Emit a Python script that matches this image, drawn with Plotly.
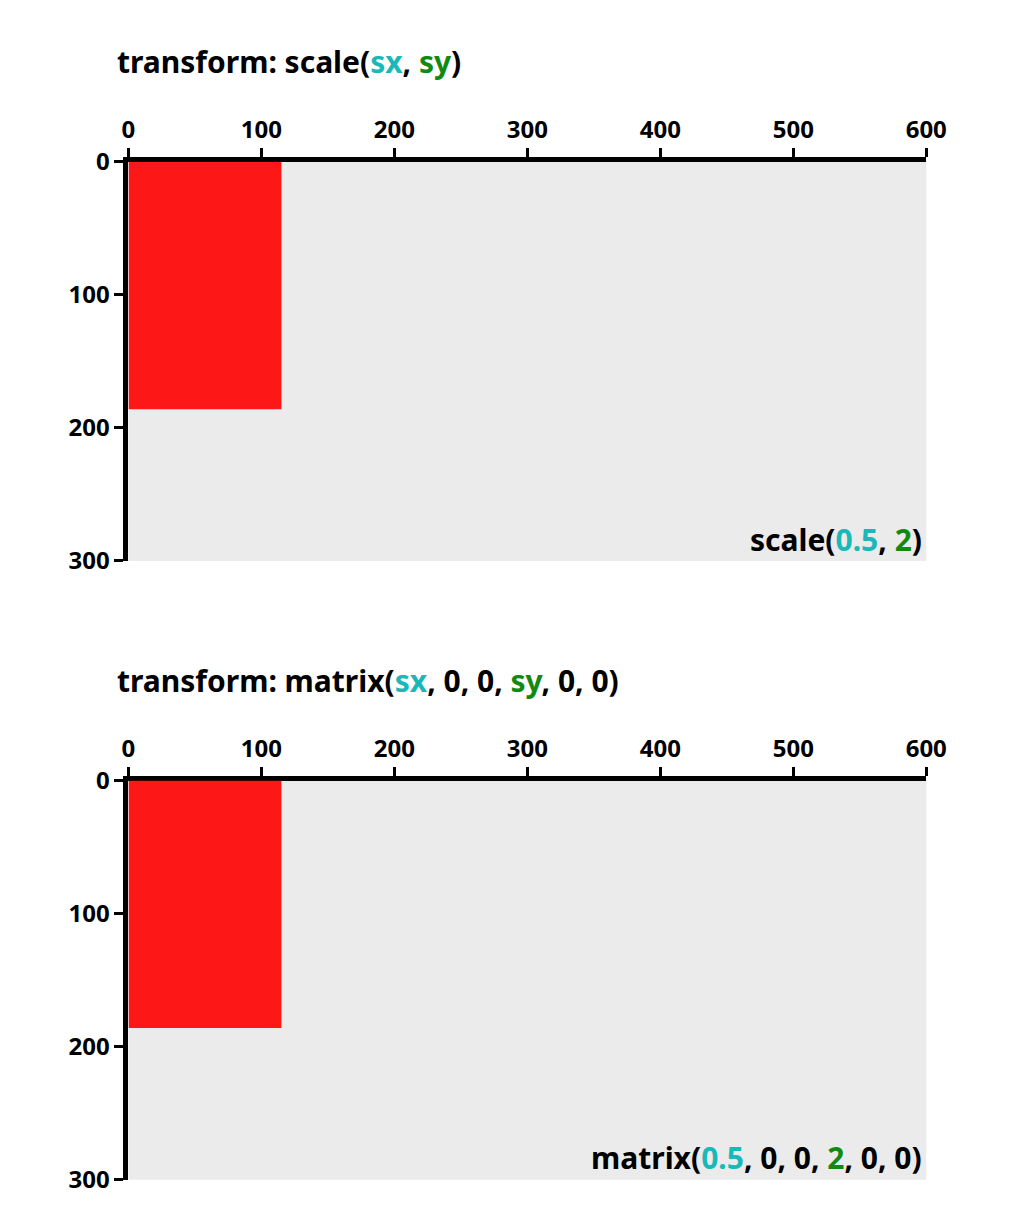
import plotly.graph_objects as go

x_ticks = [0, 100, 200, 300, 400, 500, 600]
y_ticks = [0, 100, 200, 300]
rect_x = [0, 115]
rect_y = [0, 186]
titles = ["transform: scale(<span style='color:#1ab8b8'>sx</span>, <span style='color:#118a11'>sy</span>)",
          "transform: matrix(<span style='color:#1ab8b8'>sx</span>, 0, 0, <span style='color:#118a11'>sy</span>, 0, 0)"]
labels = ["scale(<span style='color:#1ab8b8'>0.5</span>, <span style='color:#118a11'>2</span>)",
          "matrix(<span style='color:#1ab8b8'>0.5</span>, 0, 0, <span style='color:#118a11'>2</span>, 0, 0)"]

W, H = 1010, 1228
S, OX, OY = 0.975, 13.2, 24.0
def px(p): return (p - OX) / S / W
def py(p): return 1 - (p - OY) / S / H

FONT = "Noto Sans"
fig = go.Figure()
panels = [(160, 560), (780, 1180)]
x0p, x1p = 127, 927
for i, (top, bot) in enumerate(panels):
    sfx = "" if i == 0 else "2"
    xa, ya = "x" + sfx, "y" + sfx
    fig.add_trace(go.Scatter(x=[None], y=[None], xaxis=xa, yaxis=ya, showlegend=False))
    common = dict(showgrid=False, zeroline=False, showline=True, linecolor="black", linewidth=5,
                  ticks="outside", ticklen=9, tickwidth=3, tickcolor="black",
                  tickfont=dict(family=FONT, size=24, color="black", weight="bold"))
    fig.update_layout(**{
        "xaxis" + sfx: dict(domain=[px(x0p), px(x1p)], range=[0, 600], side="top", tickvals=x_ticks,
                            anchor=ya, **common),
        "yaxis" + sfx: dict(domain=[py(bot), py(top)], range=[300, 0], tickvals=y_ticks,
                            anchor=xa, **common),
    })
    fig.add_shape(type="rect", xref=xa, yref=ya, x0=rect_x[0], x1=rect_x[1], y0=rect_y[0], y1=rect_y[1],
                  fillcolor="rgba(255,0,0,0.9)", line_width=0, layer="above")
    fig.add_annotation(text=titles[i], xref="paper", yref="paper", x=px(113), y=py(top - 100),
                       xanchor="left", yanchor="middle", showarrow=False,
                       font=dict(family=FONT, size=30, color="black", weight="bold"))
    fig.add_annotation(text=labels[i], xref="paper", yref="paper", x=px(925), y=py(bot - 22),
                       xanchor="right", yanchor="middle", showarrow=False,
                       font=dict(family=FONT, size=30, color="black", weight="bold"))
    fig.add_shape(type="rect", xref="paper", yref="paper", x0=px(x0p), x1=px(x1p),
                  y0=py(bot), y1=py(top), fillcolor="#ebebeb", line_width=0, layer="below")

fig.update_layout(width=W, height=H, margin=dict(l=0, r=0, t=0, b=0),
                  plot_bgcolor="rgba(0,0,0,0)", paper_bgcolor="white")
fig.write_html("out.html")
